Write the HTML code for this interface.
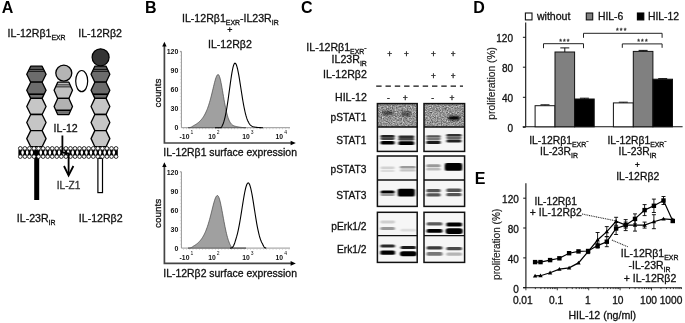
<!DOCTYPE html><html><head><meta charset="utf-8"><style>html,body{margin:0;padding:0;background:#fff;}svg{display:block;}</style></head><body><svg width="685" height="323" viewBox="0 0 685 323" font-family='"Liberation Sans", Arial, sans-serif'>
<defs><filter id="bl" x="-20%" y="-100%" width="140%" height="300%"><feGaussianBlur stdDeviation="0.9 0.7"/></filter><filter id="noise" x="0" y="0" width="100%" height="100%" color-interpolation-filters="sRGB"><feTurbulence type="fractalNoise" baseFrequency="0.8" numOctaves="3" seed="11"/><feColorMatrix type="matrix" values="0.75 0 0 0 0.2  0.75 0 0 0 0.2  0.75 0 0 0 0.2  0 0 0 0 1"/><feGaussianBlur stdDeviation="0.3"/></filter><filter id="bl2" x="-50%" y="-100%" width="200%" height="300%"><feGaussianBlur stdDeviation="1.2"/></filter></defs>
<style>text{stroke:#111;stroke-width:0.3px}</style>
<rect width="685" height="323" fill="#fff"/>
<text x="1.80" y="12.60" font-size="16" text-anchor="start" font-weight="bold" fill="#000" style="stroke:none" >A</text>
<text x="7.60" y="36.50" font-size="10.6" text-anchor="start" font-weight="normal" fill="#111" style="stroke:#111" >IL-12Rβ1<tspan font-size="6.9" baseline-shift="-2.7">EXR</tspan></text>
<text x="78.20" y="36.70" font-size="10.6" text-anchor="start" font-weight="normal" fill="#111" style="stroke:#111" >IL-12Rβ2</text>
<clipPath id="hc1"><path d="M30.70,66.20 L42.10,66.20 L46.05,74.20 L42.10,82.20 L30.70,82.20 L26.75,74.20 Z"/></clipPath>
<path d="M30.70,66.20 L42.10,66.20 L46.05,74.20 L42.10,82.20 L30.70,82.20 L26.75,74.20 Z" fill="#6c6c6c"/>
<rect x="25.75" y="66.20" width="21.30" height="3.00" fill="#555" clip-path="url(#hc1)"/>
<rect x="25.75" y="69.20" width="21.30" height="0.80" fill="#000" clip-path="url(#hc1)"/>
<rect x="25.75" y="70.00" width="21.30" height="0.90" fill="#666" clip-path="url(#hc1)"/>
<rect x="25.75" y="70.90" width="21.30" height="0.80" fill="#000" clip-path="url(#hc1)"/>
<path d="M30.70,66.20 L42.10,66.20 L46.05,74.20 L42.10,82.20 L30.70,82.20 L26.75,74.20 Z" fill="none" stroke="#000" stroke-width="1.3" stroke-linejoin="round"/>
<clipPath id="hc2"><path d="M30.70,82.20 L42.10,82.20 L46.05,90.30 L42.10,98.40 L30.70,98.40 L26.75,90.30 Z"/></clipPath>
<path d="M30.70,82.20 L42.10,82.20 L46.05,90.30 L42.10,98.40 L30.70,98.40 L26.75,90.30 Z" fill="#6c6c6c"/>
<rect x="25.75" y="93.40" width="21.30" height="1.70" fill="#000" clip-path="url(#hc2)"/>
<rect x="25.75" y="95.10" width="21.30" height="2.10" fill="#707070" clip-path="url(#hc2)"/>
<path d="M30.70,82.20 L42.10,82.20 L46.05,90.30 L42.10,98.40 L30.70,98.40 L26.75,90.30 Z" fill="none" stroke="#000" stroke-width="1.3" stroke-linejoin="round"/>
<clipPath id="hc3"><path d="M30.70,98.40 L42.10,98.40 L46.05,106.45 L42.10,114.50 L30.70,114.50 L26.75,106.45 Z"/></clipPath>
<path d="M30.70,98.40 L42.10,98.40 L46.05,106.45 L42.10,114.50 L30.70,114.50 L26.75,106.45 Z" fill="#c6c6c6"/>
<path d="M30.70,98.40 L42.10,98.40 L46.05,106.45 L42.10,114.50 L30.70,114.50 L26.75,106.45 Z" fill="none" stroke="#000" stroke-width="1.3" stroke-linejoin="round"/>
<clipPath id="hc4"><path d="M30.70,114.50 L42.10,114.50 L46.05,122.55 L42.10,130.60 L30.70,130.60 L26.75,122.55 Z"/></clipPath>
<path d="M30.70,114.50 L42.10,114.50 L46.05,122.55 L42.10,130.60 L30.70,130.60 L26.75,122.55 Z" fill="#c6c6c6"/>
<path d="M30.70,114.50 L42.10,114.50 L46.05,122.55 L42.10,130.60 L30.70,130.60 L26.75,122.55 Z" fill="none" stroke="#000" stroke-width="1.3" stroke-linejoin="round"/>
<clipPath id="hc5"><path d="M30.70,130.60 L42.10,130.60 L46.05,138.65 L42.10,146.70 L30.70,146.70 L26.75,138.65 Z"/></clipPath>
<path d="M30.70,130.60 L42.10,130.60 L46.05,138.65 L42.10,146.70 L30.70,146.70 L26.75,138.65 Z" fill="#c6c6c6"/>
<path d="M30.70,130.60 L42.10,130.60 L46.05,138.65 L42.10,146.70 L30.70,146.70 L26.75,138.65 Z" fill="none" stroke="#000" stroke-width="1.3" stroke-linejoin="round"/>
<clipPath id="hc6"><path d="M94.85,66.20 L106.05,66.20 L109.85,74.20 L106.05,82.20 L94.85,82.20 L91.05,74.20 Z"/></clipPath>
<path d="M94.85,66.20 L106.05,66.20 L109.85,74.20 L106.05,82.20 L94.85,82.20 L91.05,74.20 Z" fill="#6c6c6c"/>
<rect x="90.05" y="66.20" width="20.80" height="3.00" fill="#555" clip-path="url(#hc6)"/>
<rect x="90.05" y="69.20" width="20.80" height="0.80" fill="#000" clip-path="url(#hc6)"/>
<rect x="90.05" y="70.00" width="20.80" height="0.90" fill="#666" clip-path="url(#hc6)"/>
<rect x="90.05" y="70.90" width="20.80" height="0.80" fill="#000" clip-path="url(#hc6)"/>
<path d="M94.85,66.20 L106.05,66.20 L109.85,74.20 L106.05,82.20 L94.85,82.20 L91.05,74.20 Z" fill="none" stroke="#000" stroke-width="1.3" stroke-linejoin="round"/>
<clipPath id="hc7"><path d="M94.85,82.20 L106.05,82.20 L109.85,90.30 L106.05,98.40 L94.85,98.40 L91.05,90.30 Z"/></clipPath>
<path d="M94.85,82.20 L106.05,82.20 L109.85,90.30 L106.05,98.40 L94.85,98.40 L91.05,90.30 Z" fill="#6c6c6c"/>
<rect x="90.05" y="93.40" width="20.80" height="1.70" fill="#000" clip-path="url(#hc7)"/>
<rect x="90.05" y="95.10" width="20.80" height="2.10" fill="#707070" clip-path="url(#hc7)"/>
<path d="M94.85,82.20 L106.05,82.20 L109.85,90.30 L106.05,98.40 L94.85,98.40 L91.05,90.30 Z" fill="none" stroke="#000" stroke-width="1.3" stroke-linejoin="round"/>
<clipPath id="hc8"><path d="M94.85,98.40 L106.05,98.40 L109.85,106.45 L106.05,114.50 L94.85,114.50 L91.05,106.45 Z"/></clipPath>
<path d="M94.85,98.40 L106.05,98.40 L109.85,106.45 L106.05,114.50 L94.85,114.50 L91.05,106.45 Z" fill="#c6c6c6"/>
<path d="M94.85,98.40 L106.05,98.40 L109.85,106.45 L106.05,114.50 L94.85,114.50 L91.05,106.45 Z" fill="none" stroke="#000" stroke-width="1.3" stroke-linejoin="round"/>
<clipPath id="hc9"><path d="M94.85,114.50 L106.05,114.50 L109.85,122.55 L106.05,130.60 L94.85,130.60 L91.05,122.55 Z"/></clipPath>
<path d="M94.85,114.50 L106.05,114.50 L109.85,122.55 L106.05,130.60 L94.85,130.60 L91.05,122.55 Z" fill="#c6c6c6"/>
<path d="M94.85,114.50 L106.05,114.50 L109.85,122.55 L106.05,130.60 L94.85,130.60 L91.05,122.55 Z" fill="none" stroke="#000" stroke-width="1.3" stroke-linejoin="round"/>
<clipPath id="hc10"><path d="M94.85,130.60 L106.05,130.60 L109.85,138.65 L106.05,146.70 L94.85,146.70 L91.05,138.65 Z"/></clipPath>
<path d="M94.85,130.60 L106.05,130.60 L109.85,138.65 L106.05,146.70 L94.85,146.70 L91.05,138.65 Z" fill="#c6c6c6"/>
<path d="M94.85,130.60 L106.05,130.60 L109.85,138.65 L106.05,146.70 L94.85,146.70 L91.05,138.65 Z" fill="none" stroke="#000" stroke-width="1.3" stroke-linejoin="round"/>
<circle cx="100.6" cy="57.3" r="8.5" fill="#343434" stroke="#000" stroke-width="1.2"/>
<clipPath id="hc11"><path d="M57.70,82.20 L68.90,82.20 L72.50,90.30 L68.90,98.40 L57.70,98.40 L54.10,90.30 Z"/></clipPath>
<path d="M57.70,82.20 L68.90,82.20 L72.50,90.30 L68.90,98.40 L57.70,98.40 L54.10,90.30 Z" fill="#c0c0c0"/>
<rect x="53.10" y="82.20" width="20.40" height="2.30" fill="#bbb" clip-path="url(#hc11)"/>
<rect x="53.10" y="84.50" width="20.40" height="0.90" fill="#000" clip-path="url(#hc11)"/>
<rect x="53.10" y="85.40" width="20.40" height="1.10" fill="#999" clip-path="url(#hc11)"/>
<rect x="53.10" y="86.50" width="20.40" height="0.80" fill="#000" clip-path="url(#hc11)"/>
<path d="M57.70,82.20 L68.90,82.20 L72.50,90.30 L68.90,98.40 L57.70,98.40 L54.10,90.30 Z" fill="none" stroke="#000" stroke-width="1.3" stroke-linejoin="round"/>
<clipPath id="hc12"><path d="M57.70,98.40 L68.90,98.40 L72.50,106.45 L68.90,114.50 L57.70,114.50 L54.10,106.45 Z"/></clipPath>
<path d="M57.70,98.40 L68.90,98.40 L72.50,106.45 L68.90,114.50 L57.70,114.50 L54.10,106.45 Z" fill="#b2b2b2"/>
<rect x="53.10" y="109.50" width="20.40" height="1.70" fill="#000" clip-path="url(#hc12)"/>
<rect x="53.10" y="111.20" width="20.40" height="2.10" fill="#707070" clip-path="url(#hc12)"/>
<path d="M57.70,98.40 L68.90,98.40 L72.50,106.45 L68.90,114.50 L57.70,114.50 L54.10,106.45 Z" fill="none" stroke="#000" stroke-width="1.3" stroke-linejoin="round"/>
<circle cx="63.8" cy="73.1" r="8.0" fill="#b4b4b4" stroke="#000" stroke-width="1.3"/>
<ellipse cx="81.7" cy="81.1" rx="6.0" ry="10.6" fill="#fff" stroke="#000" stroke-width="1.2"/>
<rect x="34.2" y="151" width="5.0" height="49.0" fill="#000"/>
<rect x="97.9" y="158.3" width="4.6" height="34.3" fill="#fff" stroke="#000" stroke-width="1.2"/>
<rect x="18.4" y="149.6" width="99.4" height="5.9" fill="#000"/>
<ellipse cx="22.58" cy="152.55" rx="1.25" ry="2.4" fill="#fff"/>
<ellipse cx="27.14" cy="152.55" rx="1.25" ry="2.4" fill="#fff"/>
<ellipse cx="31.70" cy="152.55" rx="1.25" ry="2.4" fill="#fff"/>
<ellipse cx="40.82" cy="152.55" rx="1.25" ry="2.4" fill="#fff"/>
<ellipse cx="45.38" cy="152.55" rx="1.25" ry="2.4" fill="#fff"/>
<ellipse cx="49.94" cy="152.55" rx="1.25" ry="2.4" fill="#fff"/>
<ellipse cx="54.50" cy="152.55" rx="1.25" ry="2.4" fill="#fff"/>
<ellipse cx="59.06" cy="152.55" rx="1.25" ry="2.4" fill="#fff"/>
<ellipse cx="63.62" cy="152.55" rx="1.25" ry="2.4" fill="#fff"/>
<ellipse cx="68.18" cy="152.55" rx="1.25" ry="2.4" fill="#fff"/>
<ellipse cx="72.74" cy="152.55" rx="1.25" ry="2.4" fill="#fff"/>
<ellipse cx="77.30" cy="152.55" rx="1.25" ry="2.4" fill="#fff"/>
<ellipse cx="81.86" cy="152.55" rx="1.25" ry="2.4" fill="#fff"/>
<ellipse cx="86.42" cy="152.55" rx="1.25" ry="2.4" fill="#fff"/>
<ellipse cx="90.98" cy="152.55" rx="1.25" ry="2.4" fill="#fff"/>
<ellipse cx="95.54" cy="152.55" rx="1.25" ry="2.4" fill="#fff"/>
<ellipse cx="100.10" cy="152.55" rx="1.25" ry="2.4" fill="#fff"/>
<ellipse cx="104.66" cy="152.55" rx="1.25" ry="2.4" fill="#fff"/>
<ellipse cx="109.22" cy="152.55" rx="1.25" ry="2.4" fill="#fff"/>
<ellipse cx="113.78" cy="152.55" rx="1.25" ry="2.4" fill="#fff"/>
<circle cx="20.30" cy="148.4" r="1.85" fill="#fff" stroke="#000" stroke-width="0.8"/>
<circle cx="20.30" cy="156.6" r="1.85" fill="#fff" stroke="#000" stroke-width="0.8"/>
<circle cx="24.86" cy="148.4" r="1.85" fill="#fff" stroke="#000" stroke-width="0.8"/>
<circle cx="24.86" cy="156.6" r="1.85" fill="#fff" stroke="#000" stroke-width="0.8"/>
<circle cx="29.42" cy="148.4" r="1.85" fill="#fff" stroke="#000" stroke-width="0.8"/>
<circle cx="29.42" cy="156.6" r="1.85" fill="#fff" stroke="#000" stroke-width="0.8"/>
<circle cx="33.98" cy="148.4" r="1.85" fill="#fff" stroke="#000" stroke-width="0.8"/>
<circle cx="33.98" cy="156.6" r="1.85" fill="#fff" stroke="#000" stroke-width="0.8"/>
<circle cx="38.54" cy="148.4" r="1.85" fill="#fff" stroke="#000" stroke-width="0.8"/>
<circle cx="38.54" cy="156.6" r="1.85" fill="#fff" stroke="#000" stroke-width="0.8"/>
<circle cx="43.10" cy="148.4" r="1.85" fill="#fff" stroke="#000" stroke-width="0.8"/>
<circle cx="43.10" cy="156.6" r="1.85" fill="#fff" stroke="#000" stroke-width="0.8"/>
<circle cx="47.66" cy="148.4" r="1.85" fill="#fff" stroke="#000" stroke-width="0.8"/>
<circle cx="47.66" cy="156.6" r="1.85" fill="#fff" stroke="#000" stroke-width="0.8"/>
<circle cx="52.22" cy="148.4" r="1.85" fill="#fff" stroke="#000" stroke-width="0.8"/>
<circle cx="52.22" cy="156.6" r="1.85" fill="#fff" stroke="#000" stroke-width="0.8"/>
<circle cx="56.78" cy="148.4" r="1.85" fill="#fff" stroke="#000" stroke-width="0.8"/>
<circle cx="56.78" cy="156.6" r="1.85" fill="#fff" stroke="#000" stroke-width="0.8"/>
<circle cx="61.34" cy="148.4" r="1.85" fill="#fff" stroke="#000" stroke-width="0.8"/>
<circle cx="61.34" cy="156.6" r="1.85" fill="#fff" stroke="#000" stroke-width="0.8"/>
<circle cx="65.90" cy="148.4" r="1.85" fill="#fff" stroke="#000" stroke-width="0.8"/>
<circle cx="65.90" cy="156.6" r="1.85" fill="#fff" stroke="#000" stroke-width="0.8"/>
<circle cx="70.46" cy="148.4" r="1.85" fill="#fff" stroke="#000" stroke-width="0.8"/>
<circle cx="70.46" cy="156.6" r="1.85" fill="#fff" stroke="#000" stroke-width="0.8"/>
<circle cx="75.02" cy="148.4" r="1.85" fill="#fff" stroke="#000" stroke-width="0.8"/>
<circle cx="75.02" cy="156.6" r="1.85" fill="#fff" stroke="#000" stroke-width="0.8"/>
<circle cx="79.58" cy="148.4" r="1.85" fill="#fff" stroke="#000" stroke-width="0.8"/>
<circle cx="79.58" cy="156.6" r="1.85" fill="#fff" stroke="#000" stroke-width="0.8"/>
<circle cx="84.14" cy="148.4" r="1.85" fill="#fff" stroke="#000" stroke-width="0.8"/>
<circle cx="84.14" cy="156.6" r="1.85" fill="#fff" stroke="#000" stroke-width="0.8"/>
<circle cx="88.70" cy="148.4" r="1.85" fill="#fff" stroke="#000" stroke-width="0.8"/>
<circle cx="88.70" cy="156.6" r="1.85" fill="#fff" stroke="#000" stroke-width="0.8"/>
<circle cx="93.26" cy="148.4" r="1.85" fill="#fff" stroke="#000" stroke-width="0.8"/>
<circle cx="93.26" cy="156.6" r="1.85" fill="#fff" stroke="#000" stroke-width="0.8"/>
<circle cx="97.82" cy="148.4" r="1.85" fill="#fff" stroke="#000" stroke-width="0.8"/>
<circle cx="97.82" cy="156.6" r="1.85" fill="#fff" stroke="#000" stroke-width="0.8"/>
<circle cx="102.38" cy="148.4" r="1.85" fill="#fff" stroke="#000" stroke-width="0.8"/>
<circle cx="102.38" cy="156.6" r="1.85" fill="#fff" stroke="#000" stroke-width="0.8"/>
<circle cx="106.94" cy="148.4" r="1.85" fill="#fff" stroke="#000" stroke-width="0.8"/>
<circle cx="106.94" cy="156.6" r="1.85" fill="#fff" stroke="#000" stroke-width="0.8"/>
<circle cx="111.50" cy="148.4" r="1.85" fill="#fff" stroke="#000" stroke-width="0.8"/>
<circle cx="111.50" cy="156.6" r="1.85" fill="#fff" stroke="#000" stroke-width="0.8"/>
<circle cx="116.06" cy="148.4" r="1.85" fill="#fff" stroke="#000" stroke-width="0.8"/>
<circle cx="116.06" cy="156.6" r="1.85" fill="#fff" stroke="#000" stroke-width="0.8"/>
<text x="53.60" y="131.90" font-size="10.6" text-anchor="start" font-weight="normal" fill="#111" style="stroke:#111" >IL-12</text>
<path d="M62.4,135.5 V152.5 L68.6,153.5 V175" fill="none" stroke="#000" stroke-width="1.8"/>
<path d="M64.0,166.0 L68.6,175.5 L73.4,166.0" fill="none" stroke="#000" stroke-width="1.8" stroke-linejoin="miter"/>
<text x="56.80" y="189.40" font-size="10.1" text-anchor="start" font-weight="normal" fill="#333" style="stroke:#333" >IL-Z1</text>
<text x="16.80" y="222.20" font-size="10.6" text-anchor="start" font-weight="normal" fill="#111" style="stroke:#111" >IL-23R<tspan font-size="6.9" baseline-shift="-2.7">IR</tspan></text>
<text x="78.80" y="222.20" font-size="10.6" text-anchor="start" font-weight="normal" fill="#111" style="stroke:#111" >IL-12Rβ2</text>
<text x="145.00" y="12.60" font-size="16" text-anchor="start" font-weight="bold" fill="#000" style="stroke:none" >B</text>
<text x="182.0" y="21.6" font-size="10.6" fill="#111">IL-12Rβ1<tspan font-size="6.9" baseline-shift="-2.7">EXR</tspan>-IL23R<tspan font-size="6.9" baseline-shift="-2.7">IR</tspan></text>
<text x="229.80" y="33.40" font-size="9.5" text-anchor="middle" font-weight="bold" fill="#111" style="stroke:none" >+</text>
<text x="229.90" y="47.80" font-size="10.6" text-anchor="middle" font-weight="normal" fill="#111" style="stroke:#111" >IL-12Rβ2</text>
<path d="M164.4,46.0 V143.0 H291" fill="none" stroke="#444" stroke-width="1.7"/>
<path d="M162.2,46.5 L164.4,41.8 L166.6,46.5 Z" fill="#000"/>
<path d="M290.6,140.7 L295.8,143.0 L290.6,145.3 Z" fill="#000"/>
<path d="M179.9,51.4 H181.4 V127.7 H290" fill="none" stroke="#8a8a8a" stroke-width="0.9"/>
<line x1="183" y1="128.7" x2="290" y2="128.7" stroke="#bbb" stroke-width="1" stroke-dasharray="0.8,2.4"/>
<line x1="180.4" y1="52.0" x2="180.4" y2="126.7" stroke="#ccc" stroke-width="0.8" stroke-dasharray="0.8,2.6"/>
<text x="178.40" y="54.40" font-size="7" text-anchor="end" font-weight="bold" fill="#111" style="stroke:none" >120</text>
<text x="178.40" y="73.40" font-size="7" text-anchor="end" font-weight="bold" fill="#111" style="stroke:none" >90</text>
<text x="178.40" y="92.40" font-size="7" text-anchor="end" font-weight="bold" fill="#111" style="stroke:none" >60</text>
<text x="178.40" y="111.40" font-size="7" text-anchor="end" font-weight="bold" fill="#111" style="stroke:none" >30</text>
<text x="178.40" y="130.40" font-size="7" text-anchor="end" font-weight="bold" fill="#111" style="stroke:none" >0</text>
<text x="179.6" y="139.1" font-size="6.8" font-weight="bold" fill="#111" style="stroke:none">-10<tspan font-size="5" font-weight="normal" dx="1.0" dy="-5.0">1</tspan></text>
<text x="208.3" y="139.1" font-size="6.8" font-weight="bold" fill="#111" style="stroke:none">10<tspan font-size="5" font-weight="normal" dx="1.0" dy="-5.0">2</tspan></text>
<text x="242.3" y="139.1" font-size="6.8" font-weight="bold" fill="#111" style="stroke:none">10<tspan font-size="5" font-weight="normal" dx="1.0" dy="-5.0">3</tspan></text>
<text x="275.6" y="139.1" font-size="6.8" font-weight="bold" fill="#111" style="stroke:none">10<tspan font-size="5" font-weight="normal" dx="1.0" dy="-5.0">4</tspan></text>
<text transform="translate(160.7,93.0) rotate(-90)" font-size="9.9" text-anchor="middle" fill="#111">counts</text>
<text x="163.30" y="156.20" font-size="10.45" text-anchor="start" font-weight="normal" fill="#111" style="stroke:#111" >IL-12Rβ1 surface expression</text>
<path d="M188.00,127.70 L188.50,127.70 L189.00,127.68 L189.50,127.63 L190.00,127.53 L190.50,127.39 L191.00,127.20 L191.50,126.95 L192.00,126.66 L192.50,126.34 L193.00,126.00 L193.50,125.67 L194.00,125.39 L194.50,125.13 L195.00,124.85 L195.50,124.56 L196.00,124.26 L196.50,123.93 L197.00,123.59 L197.50,123.23 L198.00,122.85 L198.50,122.44 L199.00,122.01 L199.50,121.55 L200.00,121.07 L200.50,120.55 L201.00,120.00 L201.50,119.42 L202.00,118.79 L202.50,118.13 L203.00,117.42 L203.50,116.66 L204.00,115.85 L204.50,114.99 L205.00,114.06 L205.50,113.08 L206.00,112.02 L206.50,110.90 L207.00,109.70 L207.50,108.42 L208.00,107.05 L208.50,105.60 L209.00,104.06 L209.50,102.42 L210.00,100.70 L210.50,98.89 L211.00,96.99 L211.50,95.02 L212.00,92.98 L212.50,90.90 L213.00,88.79 L213.50,86.69 L214.00,84.62 L214.50,82.63 L215.00,80.76 L215.50,79.05 L216.00,77.55 L216.50,76.31 L217.00,75.37 L217.50,74.76 L218.00,74.51 L218.50,74.67 L219.00,75.34 L219.50,76.49 L220.00,78.10 L220.50,80.09 L221.00,82.40 L221.50,84.97 L222.00,87.73 L222.50,90.61 L223.00,93.55 L223.50,96.49 L224.00,99.40 L224.50,102.21 L225.00,104.91 L225.50,107.46 L226.00,109.83 L226.50,112.02 L227.00,114.02 L227.50,115.82 L228.00,117.43 L228.50,118.86 L229.00,120.10 L229.50,121.19 L230.00,122.12 L230.50,122.91 L231.00,123.59 L231.50,124.15 L232.00,124.63 L232.50,125.02 L233.00,125.35 L233.50,125.62 L234.00,125.85 L234.50,126.04 L235.00,126.19 L235.50,126.32 L236.00,126.43 L236.50,126.53 L237.00,126.63 L237.50,126.73 L238.00,126.83 L238.50,126.92 L239.00,127.01 L239.50,127.10 L240.00,127.18 L240.50,127.26 L241.00,127.34 L241.50,127.40 L242.00,127.46 L242.50,127.52 L243.00,127.57 L243.50,127.61 L244.00,127.64 L244.50,127.67 L245.00,127.68 L245.50,127.70 L246.00,127.70 Z" fill="#a0a0a0" stroke="#444" stroke-width="0.7"/>
<path d="M215.00,127.70 L215.50,127.70 L216.00,127.70 L216.50,127.70 L217.00,127.70 L217.50,127.70 L218.00,127.70 L218.50,127.70 L219.00,127.70 L219.50,127.70 L220.00,127.70 L220.50,127.70 L221.00,127.69 L221.50,127.01 L222.00,126.19 L222.50,125.21 L223.00,124.06 L223.50,122.71 L224.00,121.16 L224.50,119.38 L225.00,117.36 L225.50,115.10 L226.00,112.60 L226.50,109.85 L227.00,106.88 L227.50,103.69 L228.00,100.32 L228.50,96.79 L229.00,93.17 L229.50,89.48 L230.00,85.81 L230.50,82.19 L231.00,78.71 L231.50,75.43 L232.00,72.42 L232.50,69.75 L233.00,67.47 L233.50,65.63 L234.00,64.29 L234.50,63.48 L235.00,63.20 L235.50,63.43 L236.00,64.13 L236.50,65.26 L237.00,66.81 L237.50,68.75 L238.00,71.03 L238.50,73.59 L239.00,76.40 L239.50,79.41 L240.00,82.54 L240.50,85.76 L241.00,89.02 L241.50,92.26 L242.00,95.45 L242.50,98.55 L243.00,101.52 L243.50,104.35 L244.00,107.00 L244.50,109.47 L245.00,111.75 L245.50,113.83 L246.00,115.71 L246.50,117.39 L247.00,118.89 L247.50,120.21 L248.00,121.36 L248.50,122.36 L249.00,123.23 L249.50,123.96 L250.00,124.58 L250.50,125.11 L251.00,125.54 L251.50,125.91 L252.00,126.20 L252.50,126.45 L253.00,126.65 L253.50,126.81 L254.00,126.94 L254.50,127.05 L255.00,127.13 L255.50,127.21 L256.00,127.28 L256.50,127.34 L257.00,127.39 L257.50,127.44 L258.00,127.49 L258.50,127.53 L259.00,127.56 L259.50,127.60 L260.00,127.62 L260.50,127.65 L261.00,127.67 L261.50,127.68 L262.00,127.69 L262.50,127.70 L263.00,127.70" fill="none" stroke="#000" stroke-width="1.1"/>
<path d="M164.4,166.4 V263.4 H291" fill="none" stroke="#444" stroke-width="1.7"/>
<path d="M162.2,166.9 L164.4,162.2 L166.6,166.9 Z" fill="#000"/>
<path d="M290.6,261.1 L295.8,263.4 L290.6,265.7 Z" fill="#000"/>
<path d="M179.9,171.8 H181.4 V248.1 H290" fill="none" stroke="#8a8a8a" stroke-width="0.9"/>
<line x1="183" y1="249.1" x2="290" y2="249.1" stroke="#bbb" stroke-width="1" stroke-dasharray="0.8,2.4"/>
<line x1="180.4" y1="172.4" x2="180.4" y2="247.1" stroke="#ccc" stroke-width="0.8" stroke-dasharray="0.8,2.6"/>
<text x="178.40" y="174.80" font-size="7" text-anchor="end" font-weight="bold" fill="#111" style="stroke:none" >120</text>
<text x="178.40" y="193.80" font-size="7" text-anchor="end" font-weight="bold" fill="#111" style="stroke:none" >90</text>
<text x="178.40" y="212.80" font-size="7" text-anchor="end" font-weight="bold" fill="#111" style="stroke:none" >60</text>
<text x="178.40" y="231.80" font-size="7" text-anchor="end" font-weight="bold" fill="#111" style="stroke:none" >30</text>
<text x="178.40" y="250.80" font-size="7" text-anchor="end" font-weight="bold" fill="#111" style="stroke:none" >0</text>
<text x="179.6" y="259.5" font-size="6.8" font-weight="bold" fill="#111" style="stroke:none">-10<tspan font-size="5" font-weight="normal" dx="1.0" dy="-5.0">1</tspan></text>
<text x="208.3" y="259.5" font-size="6.8" font-weight="bold" fill="#111" style="stroke:none">10<tspan font-size="5" font-weight="normal" dx="1.0" dy="-5.0">2</tspan></text>
<text x="242.3" y="259.5" font-size="6.8" font-weight="bold" fill="#111" style="stroke:none">10<tspan font-size="5" font-weight="normal" dx="1.0" dy="-5.0">3</tspan></text>
<text x="275.6" y="259.5" font-size="6.8" font-weight="bold" fill="#111" style="stroke:none">10<tspan font-size="5" font-weight="normal" dx="1.0" dy="-5.0">4</tspan></text>
<text transform="translate(160.7,213.4) rotate(-90)" font-size="9.9" text-anchor="middle" fill="#111">counts</text>
<text x="163.30" y="276.60" font-size="10.45" text-anchor="start" font-weight="normal" fill="#111" style="stroke:#111" >IL-12Rβ2 surface expression</text>
<path d="M188.00,248.10 L188.50,248.10 L189.00,248.09 L189.50,248.05 L190.00,247.98 L190.50,247.85 L191.00,247.66 L191.50,247.42 L192.00,247.13 L192.50,246.80 L193.00,246.44 L193.50,246.09 L194.00,245.78 L194.50,245.48 L195.00,245.18 L195.50,244.85 L196.00,244.51 L196.50,244.14 L197.00,243.75 L197.50,243.34 L198.00,242.90 L198.50,242.43 L199.00,241.94 L199.50,241.41 L200.00,240.85 L200.50,240.25 L201.00,239.61 L201.50,238.92 L202.00,238.20 L202.50,237.42 L203.00,236.59 L203.50,235.71 L204.00,234.77 L204.50,233.76 L205.00,232.69 L205.50,231.55 L206.00,230.34 L206.50,229.05 L207.00,227.69 L207.50,226.24 L208.00,224.72 L208.50,223.11 L209.00,221.42 L209.50,219.65 L210.00,217.82 L210.50,215.91 L211.00,213.96 L211.50,211.96 L212.00,209.95 L212.50,207.94 L213.00,205.96 L213.50,204.04 L214.00,202.23 L214.50,200.55 L215.00,199.06 L215.50,197.78 L216.00,196.76 L216.50,196.03 L217.00,195.61 L217.50,195.51 L218.00,195.81 L218.50,196.54 L219.00,197.67 L219.50,199.17 L220.00,201.00 L220.50,203.10 L221.00,205.42 L221.50,207.92 L222.00,210.55 L222.50,213.26 L223.00,216.00 L223.50,218.74 L224.00,221.45 L224.50,224.09 L225.00,226.63 L225.50,229.07 L226.00,231.37 L226.50,233.53 L227.00,235.54 L227.50,237.40 L228.00,239.10 L228.50,240.64 L229.00,242.04 L229.50,243.29 L230.00,244.40 L230.50,245.38 L231.00,246.24 L231.50,247.00 L232.00,247.65 L232.50,248.10 L233.00,248.10 L233.50,248.10 L234.00,248.10 L234.50,248.10 L235.00,248.10 L235.50,248.10 L236.00,248.10 L236.50,248.10 L237.00,248.10 L237.50,248.10 L238.00,248.10 L238.50,248.10 L239.00,248.10 L239.50,248.10 L240.00,248.10 L240.50,248.10 L241.00,248.10 L241.50,248.10 L242.00,248.10 L242.50,248.10 L243.00,248.10 L243.50,248.10 L244.00,248.10 L244.50,248.10 L245.00,248.10 L245.50,248.10 L246.00,248.10 Z" fill="#a0a0a0" stroke="#444" stroke-width="0.7"/>
<path d="M230.20,248.10 L230.70,248.08 L231.20,247.99 L231.70,247.80 L232.20,247.49 L232.70,247.02 L233.20,246.35 L233.70,245.46 L234.20,244.33 L234.70,242.96 L235.20,241.40 L235.70,239.73 L236.20,238.08 L236.70,236.43 L237.20,234.59 L237.70,232.56 L238.20,230.34 L238.70,227.94 L239.20,225.37 L239.70,222.62 L240.20,219.74 L240.70,216.73 L241.20,213.63 L241.70,210.47 L242.20,207.28 L242.70,204.11 L243.20,201.00 L243.70,198.00 L244.20,195.15 L244.70,192.50 L245.20,190.10 L245.70,187.99 L246.20,186.21 L246.70,184.78 L247.20,183.74 L247.70,183.11 L248.20,182.90 L248.70,183.12 L249.20,183.77 L249.70,184.83 L250.20,186.30 L250.70,188.13 L251.20,190.29 L251.70,192.75 L252.20,195.46 L252.70,198.37 L253.20,201.43 L253.70,204.59 L254.20,207.81 L254.70,211.04 L255.20,214.24 L255.70,217.37 L256.20,220.39 L256.70,223.29 L257.20,226.03 L257.70,228.59 L258.20,230.98 L258.70,233.17 L259.20,235.17 L259.70,236.98 L260.20,238.59 L260.70,240.03 L261.20,241.29 L261.70,242.40 L262.20,243.36 L262.70,244.35 L263.20,245.38 L263.70,246.31 L264.20,247.04 L264.70,247.56 L265.20,247.89 L265.70,248.05 L266.20,248.10" fill="none" stroke="#000" stroke-width="1.1"/>
<text x="301.00" y="12.60" font-size="16" text-anchor="start" font-weight="bold" fill="#000" style="stroke:none" >C</text>
<text x="306.3" y="51.1" font-size="10.6" fill="#111">IL-12Rβ1<tspan font-size="6.9" baseline-shift="-2.7">EXR</tspan><tspan font-size="6.8" baseline-shift="0.8">-</tspan></text>
<text x="366.8" y="62.5" font-size="10.6" text-anchor="end" fill="#111">IL23R<tspan font-size="6.9" baseline-shift="-2.7">IR</tspan></text>
<text x="366.80" y="78.20" font-size="10.6" text-anchor="end" font-weight="normal" fill="#111" style="stroke:#111" >IL-12Rβ2</text>
<text x="366.80" y="100.90" font-size="10.6" text-anchor="end" font-weight="normal" fill="#111" style="stroke:#111" >HIL-12</text>
<text x="389.70" y="56.80" font-size="8.2" text-anchor="middle" font-weight="normal" fill="#111" style="stroke:#111" >+</text>
<text x="406.40" y="56.80" font-size="8.2" text-anchor="middle" font-weight="normal" fill="#111" style="stroke:#111" >+</text>
<text x="433.40" y="56.80" font-size="8.2" text-anchor="middle" font-weight="normal" fill="#111" style="stroke:#111" >+</text>
<text x="453.20" y="56.80" font-size="8.2" text-anchor="middle" font-weight="normal" fill="#111" style="stroke:#111" >+</text>
<text x="433.40" y="79.00" font-size="8.2" text-anchor="middle" font-weight="normal" fill="#111" style="stroke:#111" >+</text>
<text x="453.20" y="79.00" font-size="8.2" text-anchor="middle" font-weight="normal" fill="#111" style="stroke:#111" >+</text>
<line x1="376.2" y1="86.2" x2="463" y2="86.2" stroke="#111" stroke-width="1.3" stroke-dasharray="5.4,3.9"/>
<text x="388.30" y="100.50" font-size="8.5" text-anchor="middle" font-weight="normal" fill="#111" style="stroke:#111" >-</text>
<text x="405.30" y="100.50" font-size="8.5" text-anchor="middle" font-weight="normal" fill="#111" style="stroke:#111" >+</text>
<text x="432.70" y="100.50" font-size="8.5" text-anchor="middle" font-weight="normal" fill="#111" style="stroke:#111" >-</text>
<text x="452.00" y="100.50" font-size="8.5" text-anchor="middle" font-weight="normal" fill="#111" style="stroke:#111" >+</text>
<text x="366.40" y="120.80" font-size="10.2" text-anchor="end" font-weight="normal" fill="#111" style="stroke:#111" >pSTAT1</text>
<text x="366.40" y="144.40" font-size="10.2" text-anchor="end" font-weight="normal" fill="#111" style="stroke:#111" >STAT1</text>
<text x="366.40" y="172.90" font-size="10.2" text-anchor="end" font-weight="normal" fill="#111" style="stroke:#111" >pSTAT3</text>
<text x="366.40" y="198.80" font-size="10.2" text-anchor="end" font-weight="normal" fill="#111" style="stroke:#111" >STAT3</text>
<text x="366.40" y="230.00" font-size="10.2" text-anchor="end" font-weight="normal" fill="#111" style="stroke:#111" >pErk1/2</text>
<text x="366.40" y="253.40" font-size="10.2" text-anchor="end" font-weight="normal" fill="#111" style="stroke:#111" >Erk1/2</text>
<rect x="377.4" y="103.6" width="39.8" height="23.4" fill="#a8a8a8"/>
<rect x="377.4" y="103.6" width="39.8" height="23.4" filter="url(#noise)"/>
<rect x="377.4" y="127.0" width="39.8" height="24.4" fill="#f6f6f6"/>
<rect x="424.0" y="103.6" width="40.6" height="23.4" fill="#a8a8a8"/>
<rect x="424.0" y="103.6" width="40.6" height="23.4" filter="url(#noise)"/>
<rect x="424.0" y="127.0" width="40.6" height="24.4" fill="#f6f6f6"/>
<rect x="377.4" y="156.0" width="39.8" height="50.4" fill="#f6f6f6"/>
<rect x="424.0" y="156.0" width="40.6" height="50.4" fill="#f6f6f6"/>
<rect x="377.4" y="212.3" width="39.8" height="50.1" fill="#f6f6f6"/>
<rect x="424.0" y="212.3" width="40.6" height="50.1" fill="#f6f6f6"/>
<rect x="382.4" y="111.00" width="10.8" height="4.00" rx="1.50" fill="#111" opacity="0.6" filter="url(#bl2)"/>
<rect x="401.0" y="111.70" width="9.5" height="4.60" rx="1.50" fill="#111" opacity="0.55" filter="url(#bl2)"/>
<rect x="448.2" y="115.70" width="11.6" height="4.60" rx="1.50" fill="#111" opacity="0.8" filter="url(#bl2)"/>
<rect x="449.5" y="116.70" width="9.0" height="2.60" rx="1.30" fill="#000" opacity="0.75" filter="url(#bl)"/>
<rect x="380.6" y="135.00" width="14.0" height="2.40" rx="1.20" fill="#222" opacity="1.0" filter="url(#bl)"/>
<rect x="380.6" y="137.20" width="14.0" height="2.80" rx="1.40" fill="#444" opacity="1.0" filter="url(#bl)"/>
<rect x="380.6" y="140.90" width="14.0" height="3.70" rx="1.50" fill="#000" opacity="1.0" filter="url(#bl)"/>
<rect x="398.4" y="135.60" width="15.8" height="2.40" rx="1.20" fill="#2a2a2a" opacity="1.0" filter="url(#bl)"/>
<rect x="398.4" y="137.80" width="15.8" height="2.80" rx="1.40" fill="#444" opacity="1.0" filter="url(#bl)"/>
<rect x="398.4" y="141.20" width="15.8" height="3.80" rx="1.50" fill="#000" opacity="1.0" filter="url(#bl)"/>
<rect x="426.3" y="135.20" width="14.3" height="2.40" rx="1.20" fill="#555" opacity="1.0" filter="url(#bl)"/>
<rect x="426.3" y="137.40" width="14.3" height="2.60" rx="1.30" fill="#777" opacity="1.0" filter="url(#bl)"/>
<rect x="426.3" y="140.80" width="14.3" height="3.20" rx="1.50" fill="#1a1a1a" opacity="1.0" filter="url(#bl)"/>
<rect x="446.4" y="134.00" width="15.1" height="2.60" rx="1.30" fill="#333" opacity="1.0" filter="url(#bl)"/>
<rect x="446.4" y="136.60" width="15.1" height="2.40" rx="1.20" fill="#666" opacity="1.0" filter="url(#bl)"/>
<rect x="446.4" y="139.40" width="15.1" height="3.20" rx="1.50" fill="#222" opacity="1.0" filter="url(#bl)"/>
<rect x="380.6" y="166.60" width="14.0" height="2.40" rx="1.20" fill="#d2d2d2" opacity="1.0" filter="url(#bl)"/>
<rect x="380.6" y="169.80" width="14.0" height="2.20" rx="1.10" fill="#dcdcdc" opacity="1.0" filter="url(#bl)"/>
<rect x="399.9" y="166.00" width="15.8" height="2.60" rx="1.30" fill="#9a9a9a" opacity="1.0" filter="url(#bl)"/>
<rect x="399.9" y="169.20" width="15.8" height="2.40" rx="1.20" fill="#c4c4c4" opacity="1.0" filter="url(#bl)"/>
<rect x="426.3" y="164.20" width="14.3" height="3.00" rx="1.50" fill="#999" opacity="1.0" filter="url(#bl)"/>
<rect x="426.3" y="168.00" width="14.3" height="2.60" rx="1.30" fill="#bbb" opacity="1.0" filter="url(#bl)"/>
<rect x="445.0" y="162.90" width="17.0" height="7.80" rx="1.50" fill="#000" opacity="1.0" filter="url(#bl)"/>
<rect x="446.0" y="164.30" width="15.0" height="5.00" rx="1.50" fill="#000" opacity="1.0" filter="url(#bl)"/>
<rect x="380.6" y="190.40" width="14.0" height="3.20" rx="1.50" fill="#000" opacity="1.0" filter="url(#bl)"/>
<rect x="380.6" y="193.60" width="14.0" height="2.50" rx="1.25" fill="#999" opacity="1.0" filter="url(#bl)"/>
<rect x="397.9" y="188.80" width="16.8" height="7.60" rx="1.50" fill="#000" opacity="1.0" filter="url(#bl)"/>
<rect x="399.4" y="190.10" width="13.8" height="5.00" rx="1.50" fill="#000" opacity="1.0" filter="url(#bl)"/>
<rect x="426.3" y="189.10" width="14.3" height="3.20" rx="1.50" fill="#555" opacity="1.0" filter="url(#bl)"/>
<rect x="426.3" y="193.20" width="14.3" height="3.30" rx="1.50" fill="#555" opacity="1.0" filter="url(#bl)"/>
<rect x="446.4" y="188.40" width="15.1" height="3.50" rx="1.50" fill="#555" opacity="1.0" filter="url(#bl)"/>
<rect x="446.4" y="192.90" width="15.1" height="3.30" rx="1.50" fill="#555" opacity="1.0" filter="url(#bl)"/>
<rect x="380.4" y="220.60" width="14.6" height="2.80" rx="1.40" fill="#cfcfcf" opacity="1.0" filter="url(#bl)"/>
<rect x="380.4" y="226.90" width="14.6" height="3.10" rx="1.50" fill="#9a9a9a" opacity="1.0" filter="url(#bl)"/>
<rect x="400.6" y="228.80" width="15.4" height="2.80" rx="1.40" fill="#dedede" opacity="1.0" filter="url(#bl)"/>
<rect x="426.6" y="222.20" width="15.8" height="3.20" rx="1.50" fill="#5a5a5a" opacity="1.0" filter="url(#bl)"/>
<rect x="426.6" y="229.00" width="15.8" height="3.80" rx="1.50" fill="#000" opacity="1.0" filter="url(#bl)"/>
<rect x="446.4" y="222.40" width="15.6" height="4.00" rx="1.50" fill="#000" opacity="1.0" filter="url(#bl)"/>
<rect x="446.4" y="228.20" width="15.6" height="5.80" rx="1.50" fill="#000" opacity="1.0" filter="url(#bl)"/>
<rect x="446.4" y="229.10" width="15.6" height="3.90" rx="1.50" fill="#000" opacity="1.0" filter="url(#bl)"/>
<rect x="380.4" y="244.40" width="14.6" height="3.20" rx="1.50" fill="#2a2a2a" opacity="1.0" filter="url(#bl)"/>
<rect x="380.4" y="250.50" width="14.6" height="4.20" rx="1.50" fill="#000" opacity="1.0" filter="url(#bl)"/>
<rect x="400.6" y="245.90" width="15.4" height="3.20" rx="1.50" fill="#1a1a1a" opacity="1.0" filter="url(#bl)"/>
<rect x="400.6" y="251.30" width="15.4" height="5.00" rx="1.50" fill="#000" opacity="1.0" filter="url(#bl)"/>
<rect x="400.6" y="252.10" width="15.4" height="3.30" rx="1.50" fill="#000" opacity="1.0" filter="url(#bl)"/>
<rect x="426.6" y="246.20" width="15.8" height="3.40" rx="1.50" fill="#3a3a3a" opacity="1.0" filter="url(#bl)"/>
<rect x="426.6" y="252.00" width="15.8" height="3.70" rx="1.50" fill="#777" opacity="1.0" filter="url(#bl)"/>
<rect x="446.4" y="247.00" width="15.6" height="3.30" rx="1.50" fill="#4a4a4a" opacity="1.0" filter="url(#bl)"/>
<rect x="446.4" y="252.60" width="15.6" height="3.20" rx="1.50" fill="#b5b5b5" opacity="1.0" filter="url(#bl)"/>
<rect x="377.4" y="103.6" width="39.8" height="47.8" fill="none" stroke="#111" stroke-width="1.5"/>
<line x1="377.4" y1="127.0" x2="417.2" y2="127.0" stroke="#111" stroke-width="1.3"/>
<rect x="424.0" y="103.6" width="40.6" height="47.8" fill="none" stroke="#111" stroke-width="1.5"/>
<line x1="424.0" y1="127.0" x2="464.6" y2="127.0" stroke="#111" stroke-width="1.3"/>
<rect x="377.4" y="156.0" width="39.8" height="50.4" fill="none" stroke="#111" stroke-width="1.5"/>
<line x1="377.4" y1="180.0" x2="417.2" y2="180.0" stroke="#111" stroke-width="1.3"/>
<rect x="424.0" y="156.0" width="40.6" height="50.4" fill="none" stroke="#111" stroke-width="1.5"/>
<line x1="424.0" y1="180.0" x2="464.6" y2="180.0" stroke="#111" stroke-width="1.3"/>
<rect x="377.4" y="212.3" width="39.8" height="50.1" fill="none" stroke="#111" stroke-width="1.5"/>
<line x1="377.4" y1="235.6" x2="417.2" y2="235.6" stroke="#111" stroke-width="1.3"/>
<rect x="424.0" y="212.3" width="40.6" height="50.1" fill="none" stroke="#111" stroke-width="1.5"/>
<line x1="424.0" y1="235.6" x2="464.6" y2="235.6" stroke="#111" stroke-width="1.3"/>
<text x="473.20" y="12.50" font-size="16" text-anchor="start" font-weight="bold" fill="#000" style="stroke:none" >D</text>
<rect x="525.4" y="13.0" width="6.6" height="6.9" fill="#fff" stroke="#111" stroke-width="1.1"/>
<text x="536.90" y="20.10" font-size="10.6" text-anchor="start" font-weight="normal" fill="#111" style="stroke:#111" >without</text>
<rect x="586.3" y="13.0" width="6.4" height="6.9" fill="#808080" stroke="#111" stroke-width="1.1"/>
<text x="597.90" y="20.10" font-size="10.4" text-anchor="start" font-weight="normal" fill="#111" style="stroke:#111" >HIL-6</text>
<rect x="637.4" y="13.0" width="6.4" height="6.9" fill="#000" stroke="#000" stroke-width="1.1"/>
<text x="647.90" y="20.10" font-size="10.4" text-anchor="start" font-weight="normal" fill="#111" style="stroke:#111" >HIL-12</text>
<path d="M525.7,22.4 V126.8" stroke="#111" stroke-width="1.1" fill="none"/>
<path d="M522.7,126.8 H682.6" stroke="#111" stroke-width="1.1" fill="none"/>
<line x1="522.9" y1="37.3" x2="525.7" y2="37.3" stroke="#111" stroke-width="1"/>
<text x="513.00" y="42.40" font-size="10" text-anchor="end" font-weight="normal" fill="#111" style="stroke:#111" >120</text>
<line x1="522.9" y1="67.2" x2="525.7" y2="67.2" stroke="#111" stroke-width="1"/>
<text x="513.00" y="72.30" font-size="10" text-anchor="end" font-weight="normal" fill="#111" style="stroke:#111" >80</text>
<line x1="522.9" y1="97.3" x2="525.7" y2="97.3" stroke="#111" stroke-width="1"/>
<text x="513.00" y="102.40" font-size="10" text-anchor="end" font-weight="normal" fill="#111" style="stroke:#111" >40</text>
<line x1="522.9" y1="127.3" x2="525.7" y2="127.3" stroke="#111" stroke-width="1"/>
<text x="513.00" y="132.40" font-size="10" text-anchor="end" font-weight="normal" fill="#111" style="stroke:#111" >0</text>
<text transform="translate(494.8,83.3) rotate(-90)" font-size="10.3" text-anchor="middle" fill="#222" style="stroke-width:0.15px">proliferation (%)</text>
<line x1="545.0" y1="104.8" x2="545.0" y2="105.7" stroke="#111" stroke-width="1"/>
<line x1="540.5" y1="104.8" x2="549.5" y2="104.8" stroke="#111" stroke-width="1"/>
<rect x="535.1" y="105.7" width="19.9" height="21.1" fill="#fff" stroke="#111" stroke-width="1"/>
<line x1="564.8" y1="47.9" x2="564.8" y2="52.0" stroke="#111" stroke-width="1"/>
<line x1="560.3" y1="47.9" x2="569.3" y2="47.9" stroke="#111" stroke-width="1"/>
<rect x="555.0" y="52.0" width="19.6" height="74.8" fill="#808080" stroke="#111" stroke-width="1"/>
<line x1="584.4" y1="98.2" x2="584.4" y2="99.0" stroke="#111" stroke-width="1"/>
<line x1="579.9" y1="98.2" x2="588.9" y2="98.2" stroke="#111" stroke-width="1"/>
<rect x="574.6" y="99.0" width="19.6" height="27.8" fill="#000" stroke="#111" stroke-width="1"/>
<line x1="623.3" y1="102.2" x2="623.3" y2="102.9" stroke="#111" stroke-width="1"/>
<line x1="618.8" y1="102.2" x2="627.8" y2="102.2" stroke="#111" stroke-width="1"/>
<rect x="613.4" y="102.9" width="19.9" height="23.9" fill="#fff" stroke="#111" stroke-width="1"/>
<line x1="643.1" y1="50.4" x2="643.1" y2="51.4" stroke="#111" stroke-width="1"/>
<line x1="638.6" y1="50.4" x2="647.6" y2="50.4" stroke="#111" stroke-width="1"/>
<rect x="633.3" y="51.4" width="19.6" height="75.4" fill="#808080" stroke="#111" stroke-width="1"/>
<line x1="662.7" y1="78.6" x2="662.7" y2="79.2" stroke="#111" stroke-width="1"/>
<line x1="658.2" y1="78.6" x2="667.2" y2="78.6" stroke="#111" stroke-width="1"/>
<rect x="652.9" y="79.2" width="19.6" height="47.6" fill="#000" stroke="#111" stroke-width="1"/>
<path d="M543.5,48.2 V43.7 H583.5 V48.2" fill="none" stroke="#222" stroke-width="1"/>
<path d="M583.5,37.8 V33.3 H662.1 V37.8" fill="none" stroke="#222" stroke-width="1"/>
<path d="M622.3,47.8 V43.9 H662.1 V47.8" fill="none" stroke="#222" stroke-width="1"/>
<text x="564.90" y="43.60" font-size="7" text-anchor="middle" font-weight="normal" fill="#333" style="stroke:#333" letter-spacing="1.1">***</text>
<text x="621.80" y="33.40" font-size="7" text-anchor="middle" font-weight="normal" fill="#333" style="stroke:#333" letter-spacing="1.1">***</text>
<text x="643.00" y="43.50" font-size="7" text-anchor="middle" font-weight="normal" fill="#333" style="stroke:#333" letter-spacing="1.1">***</text>
<text x="558.8" y="143.7" font-size="10.35" text-anchor="middle" fill="#111">IL-12Rβ1<tspan font-size="6.9" baseline-shift="-2.7">EXR</tspan><tspan font-size="6.8" baseline-shift="0.8">-</tspan></text>
<text x="559.0" y="155.1" font-size="10.35" text-anchor="middle" fill="#111">IL-23R<tspan font-size="6.9" baseline-shift="-2.7">IR</tspan></text>
<text x="637.0" y="143.7" font-size="10.35" text-anchor="middle" fill="#111">IL-12Rβ1<tspan font-size="6.9" baseline-shift="-2.7">EXR</tspan><tspan font-size="6.8" baseline-shift="0.8">-</tspan></text>
<text x="637.6" y="155.1" font-size="10.35" text-anchor="middle" fill="#111">IL-23R<tspan font-size="6.9" baseline-shift="-2.7">IR</tspan></text>
<text x="637.30" y="167.60" font-size="9" text-anchor="middle" font-weight="bold" fill="#111" style="stroke:none" >+</text>
<text x="637.70" y="179.60" font-size="10.4" text-anchor="middle" font-weight="normal" fill="#111" style="stroke:#111" >IL-12Rβ2</text>
<text x="474.70" y="184.30" font-size="16" text-anchor="start" font-weight="bold" fill="#000" style="stroke:none" >E</text>
<path d="M525.9,183.2 V287.7" stroke="#111" stroke-width="1.1" fill="none"/>
<path d="M523.0,287.7 H681.8" stroke="#111" stroke-width="1.1" fill="none"/>
<line x1="523.2" y1="198.2" x2="525.9" y2="198.2" stroke="#111" stroke-width="1"/>
<text x="518.80" y="203.00" font-size="10" text-anchor="end" font-weight="normal" fill="#111" style="stroke:#111" >120</text>
<line x1="523.2" y1="228.0" x2="525.9" y2="228.0" stroke="#111" stroke-width="1"/>
<text x="518.80" y="232.84" font-size="10" text-anchor="end" font-weight="normal" fill="#111" style="stroke:#111" >80</text>
<line x1="523.2" y1="257.9" x2="525.9" y2="257.9" stroke="#111" stroke-width="1"/>
<text x="518.80" y="262.67" font-size="10" text-anchor="end" font-weight="normal" fill="#111" style="stroke:#111" >40</text>
<line x1="523.2" y1="287.7" x2="525.9" y2="287.7" stroke="#111" stroke-width="1"/>
<text x="518.80" y="292.50" font-size="10" text-anchor="end" font-weight="normal" fill="#111" style="stroke:#111" >0</text>
<text transform="translate(499.6,244.3) rotate(-90)" font-size="10.1" text-anchor="middle" fill="#222" style="stroke-width:0.15px">proliferation (%)</text>
<line x1="525.90" y1="287.7" x2="525.90" y2="290.30" stroke="#111" stroke-width="0.8"/>
<line x1="535.35" y1="287.7" x2="535.35" y2="289.10" stroke="#111" stroke-width="0.8"/>
<line x1="540.88" y1="287.7" x2="540.88" y2="289.10" stroke="#111" stroke-width="0.8"/>
<line x1="544.80" y1="287.7" x2="544.80" y2="289.10" stroke="#111" stroke-width="0.8"/>
<line x1="547.85" y1="287.7" x2="547.85" y2="289.10" stroke="#111" stroke-width="0.8"/>
<line x1="550.33" y1="287.7" x2="550.33" y2="289.10" stroke="#111" stroke-width="0.8"/>
<line x1="552.44" y1="287.7" x2="552.44" y2="289.10" stroke="#111" stroke-width="0.8"/>
<line x1="554.26" y1="287.7" x2="554.26" y2="289.10" stroke="#111" stroke-width="0.8"/>
<line x1="555.86" y1="287.7" x2="555.86" y2="289.10" stroke="#111" stroke-width="0.8"/>
<line x1="557.30" y1="287.7" x2="557.30" y2="290.30" stroke="#111" stroke-width="0.8"/>
<line x1="566.75" y1="287.7" x2="566.75" y2="289.10" stroke="#111" stroke-width="0.8"/>
<line x1="572.28" y1="287.7" x2="572.28" y2="289.10" stroke="#111" stroke-width="0.8"/>
<line x1="576.20" y1="287.7" x2="576.20" y2="289.10" stroke="#111" stroke-width="0.8"/>
<line x1="579.25" y1="287.7" x2="579.25" y2="289.10" stroke="#111" stroke-width="0.8"/>
<line x1="581.73" y1="287.7" x2="581.73" y2="289.10" stroke="#111" stroke-width="0.8"/>
<line x1="583.84" y1="287.7" x2="583.84" y2="289.10" stroke="#111" stroke-width="0.8"/>
<line x1="585.66" y1="287.7" x2="585.66" y2="289.10" stroke="#111" stroke-width="0.8"/>
<line x1="587.26" y1="287.7" x2="587.26" y2="289.10" stroke="#111" stroke-width="0.8"/>
<line x1="588.70" y1="287.7" x2="588.70" y2="290.30" stroke="#111" stroke-width="0.8"/>
<line x1="598.15" y1="287.7" x2="598.15" y2="289.10" stroke="#111" stroke-width="0.8"/>
<line x1="603.68" y1="287.7" x2="603.68" y2="289.10" stroke="#111" stroke-width="0.8"/>
<line x1="607.60" y1="287.7" x2="607.60" y2="289.10" stroke="#111" stroke-width="0.8"/>
<line x1="610.65" y1="287.7" x2="610.65" y2="289.10" stroke="#111" stroke-width="0.8"/>
<line x1="613.13" y1="287.7" x2="613.13" y2="289.10" stroke="#111" stroke-width="0.8"/>
<line x1="615.24" y1="287.7" x2="615.24" y2="289.10" stroke="#111" stroke-width="0.8"/>
<line x1="617.06" y1="287.7" x2="617.06" y2="289.10" stroke="#111" stroke-width="0.8"/>
<line x1="618.66" y1="287.7" x2="618.66" y2="289.10" stroke="#111" stroke-width="0.8"/>
<line x1="620.10" y1="287.7" x2="620.10" y2="290.30" stroke="#111" stroke-width="0.8"/>
<line x1="629.55" y1="287.7" x2="629.55" y2="289.10" stroke="#111" stroke-width="0.8"/>
<line x1="635.08" y1="287.7" x2="635.08" y2="289.10" stroke="#111" stroke-width="0.8"/>
<line x1="639.00" y1="287.7" x2="639.00" y2="289.10" stroke="#111" stroke-width="0.8"/>
<line x1="642.05" y1="287.7" x2="642.05" y2="289.10" stroke="#111" stroke-width="0.8"/>
<line x1="644.53" y1="287.7" x2="644.53" y2="289.10" stroke="#111" stroke-width="0.8"/>
<line x1="646.64" y1="287.7" x2="646.64" y2="289.10" stroke="#111" stroke-width="0.8"/>
<line x1="648.46" y1="287.7" x2="648.46" y2="289.10" stroke="#111" stroke-width="0.8"/>
<line x1="650.06" y1="287.7" x2="650.06" y2="289.10" stroke="#111" stroke-width="0.8"/>
<line x1="651.50" y1="287.7" x2="651.50" y2="290.30" stroke="#111" stroke-width="0.8"/>
<line x1="660.95" y1="287.7" x2="660.95" y2="289.10" stroke="#111" stroke-width="0.8"/>
<line x1="666.48" y1="287.7" x2="666.48" y2="289.10" stroke="#111" stroke-width="0.8"/>
<line x1="670.40" y1="287.7" x2="670.40" y2="289.10" stroke="#111" stroke-width="0.8"/>
<line x1="673.45" y1="287.7" x2="673.45" y2="289.10" stroke="#111" stroke-width="0.8"/>
<line x1="675.93" y1="287.7" x2="675.93" y2="289.10" stroke="#111" stroke-width="0.8"/>
<line x1="678.04" y1="287.7" x2="678.04" y2="289.10" stroke="#111" stroke-width="0.8"/>
<line x1="679.86" y1="287.7" x2="679.86" y2="289.10" stroke="#111" stroke-width="0.8"/>
<line x1="681.46" y1="287.7" x2="681.46" y2="289.10" stroke="#111" stroke-width="0.8"/>
<text x="522.80" y="303.80" font-size="10.2" text-anchor="middle" font-weight="normal" fill="#111" style="stroke:#111" >0.01</text>
<text x="556.20" y="303.80" font-size="10.2" text-anchor="middle" font-weight="normal" fill="#111" style="stroke:#111" >0.1</text>
<text x="587.80" y="303.80" font-size="10.2" text-anchor="middle" font-weight="normal" fill="#111" style="stroke:#111" >1</text>
<text x="617.80" y="303.80" font-size="10.2" text-anchor="middle" font-weight="normal" fill="#111" style="stroke:#111" >10</text>
<text x="648.50" y="303.80" font-size="10.2" text-anchor="middle" font-weight="normal" fill="#111" style="stroke:#111" >100</text>
<text x="671.00" y="303.80" font-size="10.2" text-anchor="middle" font-weight="normal" fill="#111" style="stroke:#111" >1000</text>
<text x="602.30" y="318.50" font-size="10.6" text-anchor="middle" font-weight="normal" fill="#111" style="stroke:#111" >HIL-12 (ng/ml)</text>
<path d="M535.1,262.1 L540.5,262.1 L550.1,260.1 L559.4,258.3 L569.1,253.2 L578.5,251.4 L588.1,251.0 L597.6,245.6 L606.8,241.7 L616.1,228.5 L625.7,225.1 L635.0,218.9 L644.6,210.1 L653.9,205.8 L663.5,200.5 L672.8,221.0" fill="none" stroke="#000" stroke-width="1.2"/>
<path d="M588.1,249.5 V252.5 M586.1,249.5 h4 M586.1,252.5 h4" stroke="#000" stroke-width="0.9" fill="none"/>
<path d="M597.6,243.1 V248.1 M595.6,243.1 h4 M595.6,248.1 h4" stroke="#000" stroke-width="0.9" fill="none"/>
<path d="M606.8,236.7 V246.7 M604.8,236.7 h4 M604.8,246.7 h4" stroke="#000" stroke-width="0.9" fill="none"/>
<path d="M616.1,222.5 V234.5 M614.1,222.5 h4 M614.1,234.5 h4" stroke="#000" stroke-width="0.9" fill="none"/>
<path d="M625.7,219.6 V230.6 M623.7,219.6 h4 M623.7,230.6 h4" stroke="#000" stroke-width="0.9" fill="none"/>
<path d="M635.0,213.9 V223.9 M633.0,213.9 h4 M633.0,223.9 h4" stroke="#000" stroke-width="0.9" fill="none"/>
<path d="M644.6,204.6 V215.6 M642.6,204.6 h4 M642.6,215.6 h4" stroke="#000" stroke-width="0.9" fill="none"/>
<path d="M653.9,199.1 V212.5 M651.9,199.1 h4 M651.9,212.5 h4" stroke="#000" stroke-width="0.9" fill="none"/>
<path d="M663.5,196.5 V204.5 M661.5,196.5 h4 M661.5,204.5 h4" stroke="#000" stroke-width="0.9" fill="none"/>
<path d="M672.8,219.5 V222.5 M670.8,219.5 h4 M670.8,222.5 h4" stroke="#000" stroke-width="0.9" fill="none"/>
<path d="M535.1,275.9 L540.5,275.7 L550.1,272.8 L559.4,269.1 L569.1,267.9 L578.5,262.9 L588.1,251.6 L597.6,240.0 L606.8,231.6 L616.1,221.3 L625.7,225.1 L635.0,225.1 L644.6,225.1 L653.9,221.7 L663.5,218.9 L672.8,219.7" fill="none" stroke="#000" stroke-width="1.2"/>
<path d="M588.1,249.6 V253.6 M586.1,249.6 h4 M586.1,253.6 h4" stroke="#000" stroke-width="0.9" fill="none"/>
<path d="M597.6,232.5 V247.5 M595.6,232.5 h4 M595.6,247.5 h4" stroke="#000" stroke-width="0.9" fill="none"/>
<path d="M606.8,226.6 V236.6 M604.8,226.6 h4 M604.8,236.6 h4" stroke="#000" stroke-width="0.9" fill="none"/>
<path d="M616.1,217.3 V225.3 M614.1,217.3 h4 M614.1,225.3 h4" stroke="#000" stroke-width="0.9" fill="none"/>
<path d="M625.7,222.1 V228.1 M623.7,222.1 h4 M623.7,228.1 h4" stroke="#000" stroke-width="0.9" fill="none"/>
<path d="M635.0,219.1 V231.1 M633.0,219.1 h4 M633.0,231.1 h4" stroke="#000" stroke-width="0.9" fill="none"/>
<path d="M644.6,222.1 V228.1 M642.6,222.1 h4 M642.6,228.1 h4" stroke="#000" stroke-width="0.9" fill="none"/>
<path d="M653.9,214.7 V228.7 M651.9,214.7 h4 M651.9,228.7 h4" stroke="#000" stroke-width="0.9" fill="none"/>
<rect x="532.9" y="259.9" width="4.4" height="4.4" fill="#000"/>
<rect x="538.3" y="259.9" width="4.4" height="4.4" fill="#000"/>
<rect x="547.9" y="257.9" width="4.4" height="4.4" fill="#000"/>
<rect x="557.2" y="256.1" width="4.4" height="4.4" fill="#000"/>
<rect x="566.9" y="251.0" width="4.4" height="4.4" fill="#000"/>
<rect x="576.3" y="249.2" width="4.4" height="4.4" fill="#000"/>
<rect x="585.9" y="248.8" width="4.4" height="4.4" fill="#000"/>
<rect x="595.4" y="243.4" width="4.4" height="4.4" fill="#000"/>
<rect x="604.6" y="239.5" width="4.4" height="4.4" fill="#000"/>
<rect x="613.9" y="226.3" width="4.4" height="4.4" fill="#000"/>
<rect x="623.5" y="222.9" width="4.4" height="4.4" fill="#000"/>
<rect x="632.8" y="216.7" width="4.4" height="4.4" fill="#000"/>
<rect x="642.4" y="207.9" width="4.4" height="4.4" fill="#000"/>
<rect x="651.7" y="203.6" width="4.4" height="4.4" fill="#000"/>
<rect x="661.3" y="198.3" width="4.4" height="4.4" fill="#000"/>
<rect x="670.6" y="218.8" width="4.4" height="4.4" fill="#000"/>
<path d="M532.9,277.5 L535.1,273.7 L537.3,277.5 Z" fill="#000"/>
<path d="M538.3,277.3 L540.5,273.5 L542.7,277.3 Z" fill="#000"/>
<path d="M547.9,274.4 L550.1,270.6 L552.3,274.4 Z" fill="#000"/>
<path d="M557.2,270.7 L559.4,266.9 L561.6,270.7 Z" fill="#000"/>
<path d="M566.9,269.5 L569.1,265.7 L571.3,269.5 Z" fill="#000"/>
<path d="M576.3,264.5 L578.5,260.7 L580.7,264.5 Z" fill="#000"/>
<path d="M585.9,253.2 L588.1,249.4 L590.3,253.2 Z" fill="#000"/>
<path d="M595.4,241.6 L597.6,237.8 L599.8,241.6 Z" fill="#000"/>
<path d="M604.6,233.2 L606.8,229.4 L609.0,233.2 Z" fill="#000"/>
<path d="M613.9,222.9 L616.1,219.1 L618.3,222.9 Z" fill="#000"/>
<path d="M623.5,226.7 L625.7,222.9 L627.9,226.7 Z" fill="#000"/>
<path d="M632.8,226.7 L635.0,222.9 L637.2,226.7 Z" fill="#000"/>
<path d="M642.4,226.7 L644.6,222.9 L646.8,226.7 Z" fill="#000"/>
<path d="M651.7,223.3 L653.9,219.5 L656.1,223.3 Z" fill="#000"/>
<path d="M661.3,220.5 L663.5,216.7 L665.7,220.5 Z" fill="#000"/>
<path d="M670.6,221.3 L672.8,217.5 L675.0,221.3 Z" fill="#000"/>
<text x="534.40" y="205.10" font-size="10.3" text-anchor="start" font-weight="normal" fill="#111" style="stroke:#111" >IL-12Rβ1</text>
<text x="529.80" y="216.30" font-size="10.4" text-anchor="start" font-weight="normal" fill="#111" style="stroke:#111" >+ IL-12Rβ2</text>
<line x1="582" y1="214.0" x2="615.5" y2="220.8" stroke="#222" stroke-width="1.05" stroke-dasharray="1,0.8"/>
<line x1="611.9" y1="240.1" x2="628.1" y2="246.9" stroke="#222" stroke-width="1.05" stroke-dasharray="1,0.8"/>
<text x="620.8" y="257.2" font-size="10.5" fill="#111">IL-12Rβ1<tspan font-size="6.9" baseline-shift="-2.7">EXR</tspan></text>
<text x="628.6" y="268.9" font-size="10.5" fill="#111">-IL-23R<tspan font-size="6.9" baseline-shift="-2.7">IR</tspan></text>
<text x="623.80" y="281.50" font-size="10.5" text-anchor="start" font-weight="normal" fill="#111" style="stroke:#111" >+ IL-12Rβ2</text>
</svg></body></html>
